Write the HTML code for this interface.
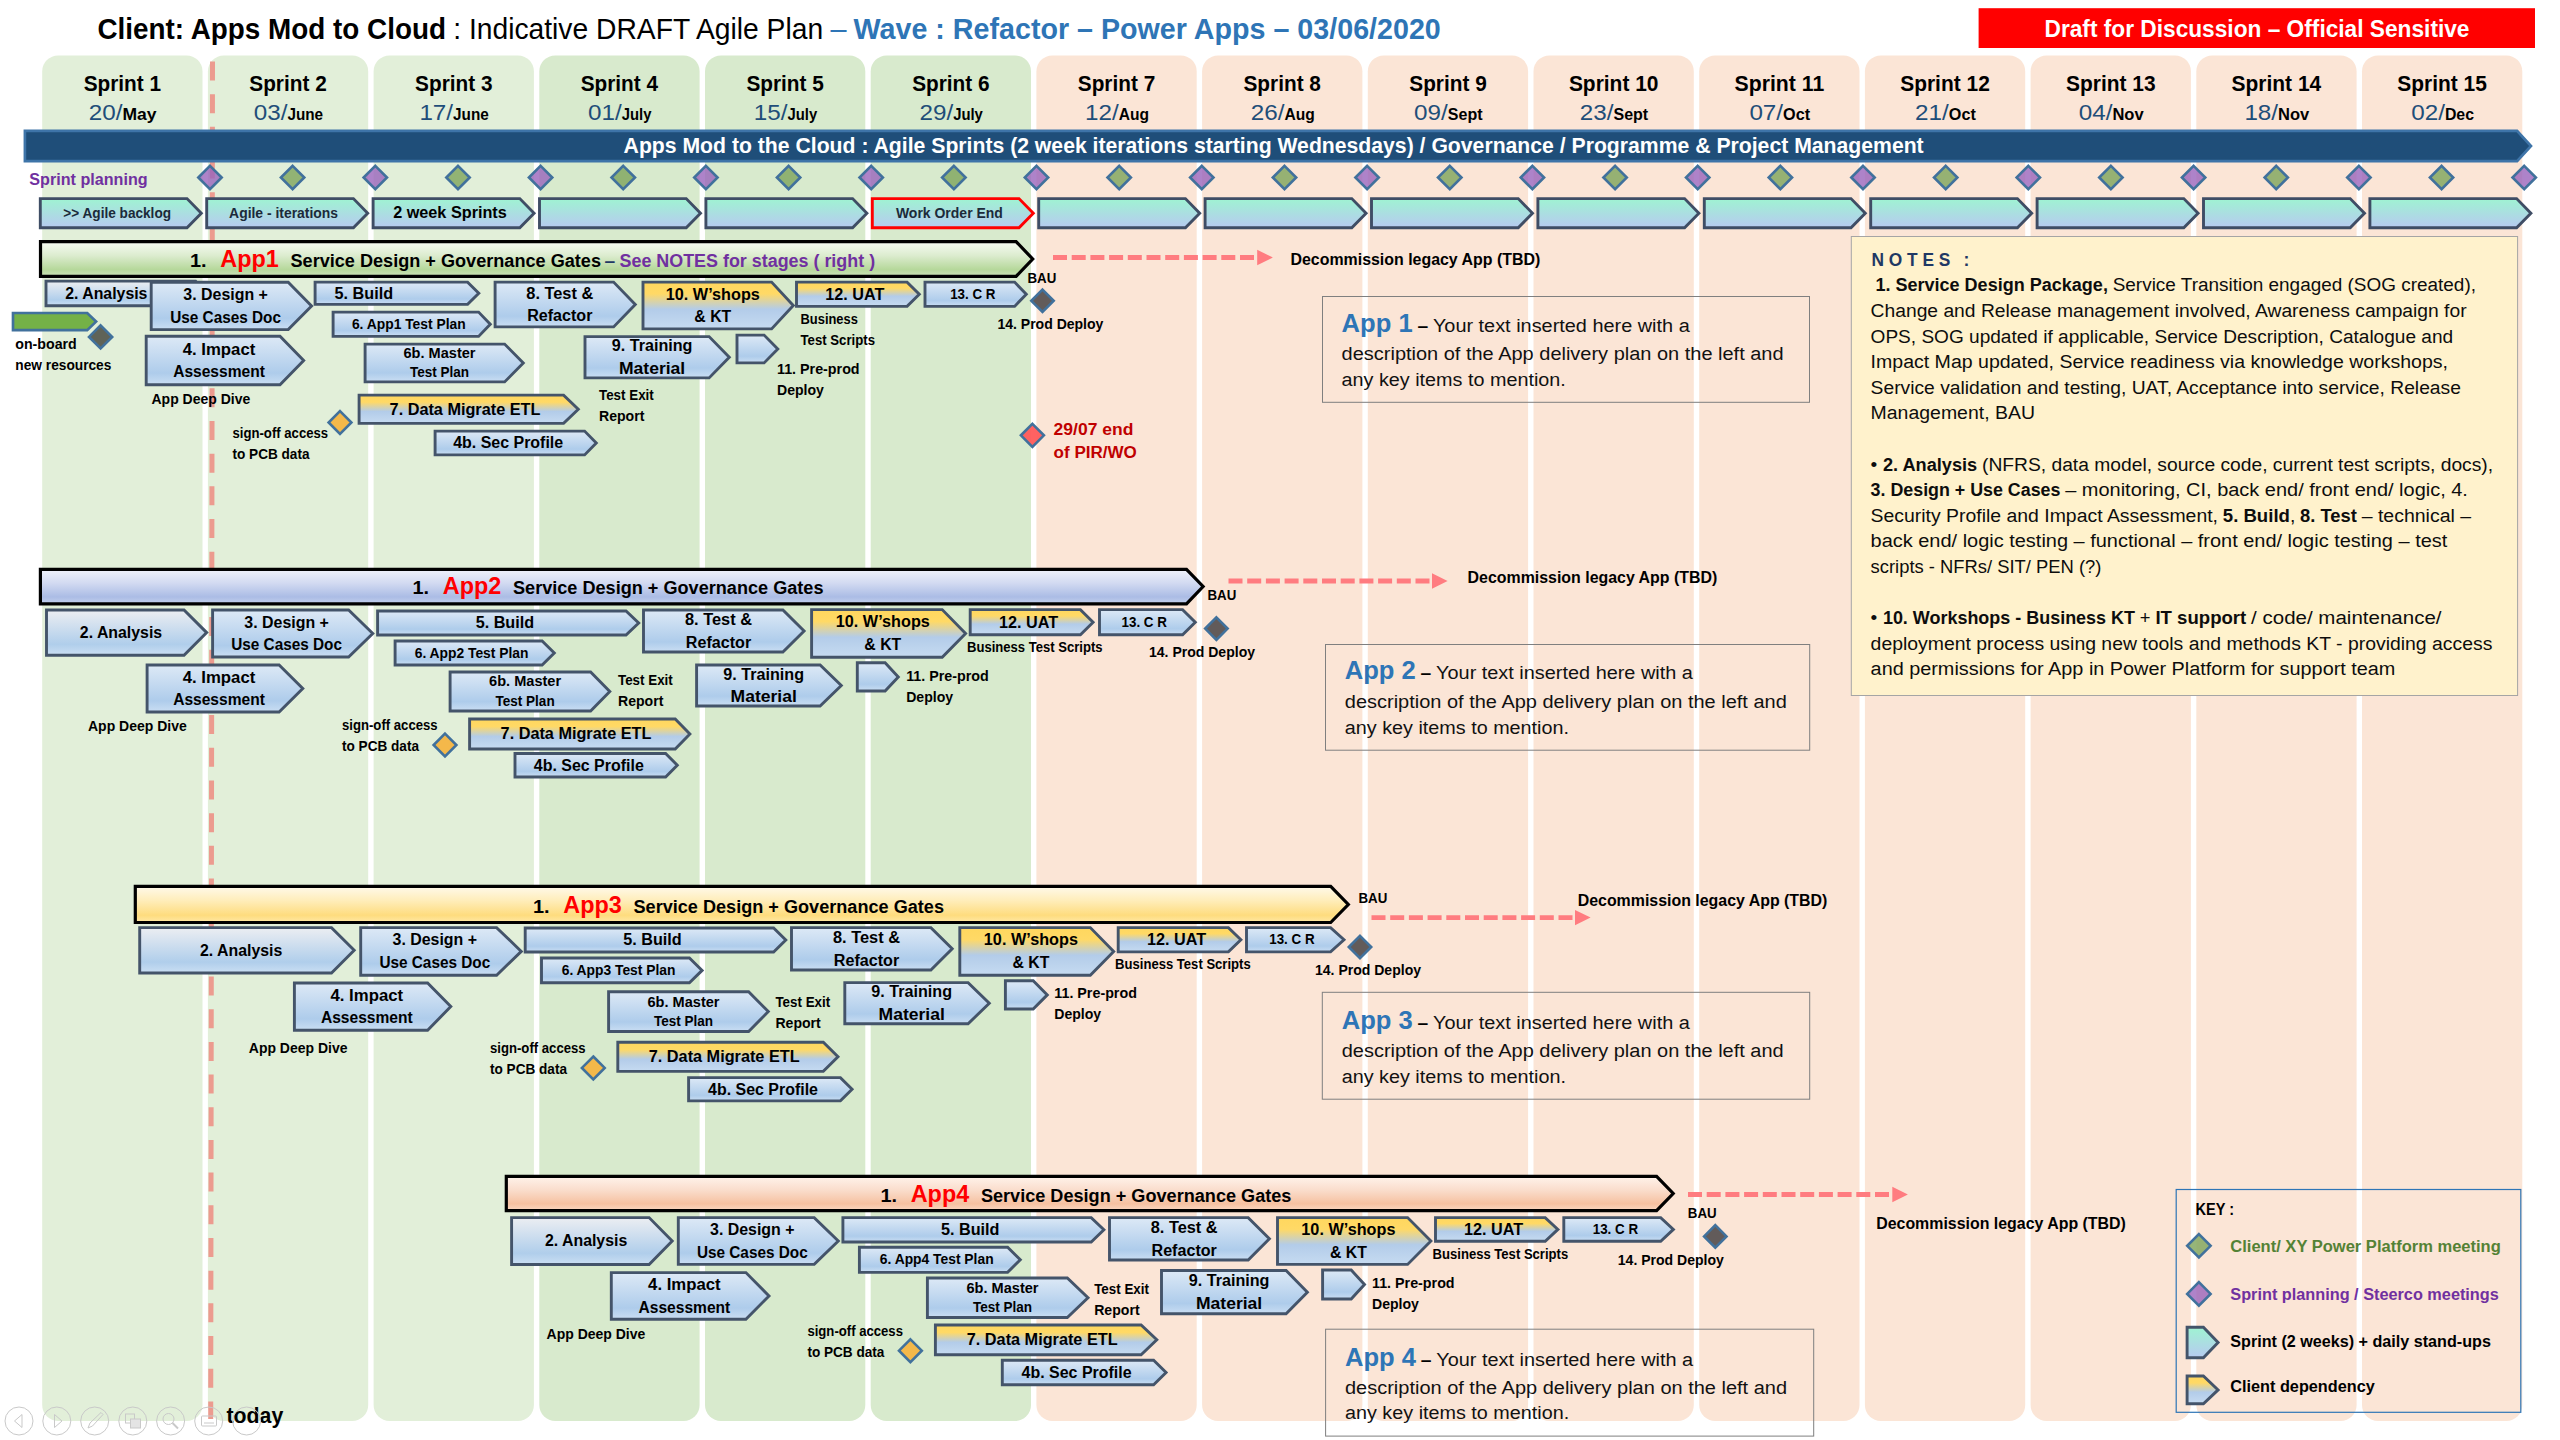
<!DOCTYPE html>
<html lang="en"><head><meta charset="utf-8"><title>Apps Mod to Cloud - Indicative DRAFT Agile Plan</title>
<style>
html,body{margin:0;padding:0;background:#fff}
body{width:2560px;height:1440px;overflow:hidden}
svg{display:block}
svg text{font-family:"Liberation Sans",sans-serif}
</style></head><body>
<svg width="2560" height="1440" viewBox="0 0 2560 1440">
<defs>
<linearGradient id="gb" x1="0" y1="0" x2="0" y2="1"><stop offset="0" stop-color="#DDE9F6"/><stop offset=".76" stop-color="#AECCEB"/><stop offset="1" stop-color="#CADEF3"/></linearGradient>
<linearGradient id="gb2" x1="0" y1="0" x2="0" y2="1"><stop offset="0" stop-color="#ECEEF2"/><stop offset=".76" stop-color="#B0CEEB"/><stop offset="1" stop-color="#CBDFF3"/></linearGradient>
<linearGradient id="gg" x1="0" y1="0" x2="0" y2="1"><stop offset="0" stop-color="#FFD75E"/><stop offset=".25" stop-color="#FFD966"/><stop offset=".58" stop-color="#B3CCE9"/><stop offset="1" stop-color="#C6DBF1"/></linearGradient>
<linearGradient id="gt" x1="0" y1="0" x2="0" y2="1"><stop offset="0" stop-color="#9FF3D2"/><stop offset="1" stop-color="#B7CAF0"/></linearGradient>
<linearGradient id="h1" x1="0" y1="0" x2="0" y2="1"><stop offset="0" stop-color="#F7FBF3"/><stop offset=".4" stop-color="#DCECCF"/><stop offset=".8" stop-color="#B6D89B"/><stop offset="1" stop-color="#CCE4BA"/></linearGradient>
<linearGradient id="h2" x1="0" y1="0" x2="0" y2="1"><stop offset="0" stop-color="#F0F2FA"/><stop offset=".4" stop-color="#D2DAF1"/><stop offset=".8" stop-color="#ABBCE5"/><stop offset="1" stop-color="#C3D0ED"/></linearGradient>
<linearGradient id="h3" x1="0" y1="0" x2="0" y2="1"><stop offset="0" stop-color="#FFF9EA"/><stop offset=".4" stop-color="#FFEDB9"/><stop offset=".8" stop-color="#FEDC7E"/><stop offset="1" stop-color="#FFE8A6"/></linearGradient>
<linearGradient id="h4" x1="0" y1="0" x2="0" y2="1"><stop offset="0" stop-color="#FFF3EB"/><stop offset=".4" stop-color="#FADDCC"/><stop offset=".8" stop-color="#F6C1A1"/><stop offset="1" stop-color="#FAD8C3"/></linearGradient>
</defs>

<rect x="42.2" y="55.4" width="160.3" height="1365.6" rx="16" fill="#E2EFD9"/>
<rect x="207.9" y="55.4" width="160.3" height="1365.6" rx="16" fill="#E2EFD9"/>
<rect x="373.6" y="55.4" width="160.3" height="1365.6" rx="16" fill="#E2EFD9"/>
<rect x="539.3" y="55.4" width="160.3" height="1365.6" rx="16" fill="#D8EACD"/>
<rect x="705.0" y="55.4" width="160.3" height="1365.6" rx="16" fill="#D8EACD"/>
<rect x="870.7" y="55.4" width="160.3" height="1365.6" rx="16" fill="#D8EACD"/>
<rect x="1036.4" y="55.4" width="160.3" height="1365.6" rx="16" fill="#FBE5D6"/>
<rect x="1202.1" y="55.4" width="160.3" height="1365.6" rx="16" fill="#FBE5D6"/>
<rect x="1367.8" y="55.4" width="160.3" height="1365.6" rx="16" fill="#FBE5D6"/>
<rect x="1533.5" y="55.4" width="160.3" height="1365.6" rx="16" fill="#FBE5D6"/>
<rect x="1699.2" y="55.4" width="160.3" height="1365.6" rx="16" fill="#FBE5D6"/>
<rect x="1864.9" y="55.4" width="160.3" height="1365.6" rx="16" fill="#FBE5D6"/>
<rect x="2030.6" y="55.4" width="160.3" height="1365.6" rx="16" fill="#FBE5D6"/>
<rect x="2196.3" y="55.4" width="160.3" height="1365.6" rx="16" fill="#FBE5D6"/>
<rect x="2362.0" y="55.4" width="160.3" height="1365.6" rx="16" fill="#FBE5D6"/>
<path d="M212.5 61.5L210.7 1419" stroke="#EC9B8F" stroke-width="5" stroke-dasharray="19 13.68" fill="none"/>
<text x="97.4" y="38.5" font-size="28.80" font-weight="700" textLength="348.6" lengthAdjust="spacingAndGlyphs">Client: Apps Mod to Cloud</text>
<text x="453.2" y="38.5" font-size="28.80" textLength="369.9" lengthAdjust="spacingAndGlyphs">: Indicative DRAFT Agile Plan</text>
<text x="830.4" y="38.5" font-size="28.80" fill="#2E75B6" textLength="16.0" lengthAdjust="spacingAndGlyphs">–</text>
<text x="853.6" y="38.5" font-size="28.80" font-weight="700" fill="#2E75B6" textLength="587.2" lengthAdjust="spacingAndGlyphs">Wave : Refactor – Power Apps – 03/06/2020</text>
<rect x="1978.6" y="8.2" width="556.4" height="39.8" fill="#FF0000"/>
<text x="2257.0" y="36.9" font-size="24.00" font-weight="700" fill="#fff" text-anchor="middle" textLength="425.0" lengthAdjust="spacingAndGlyphs">Draft for Discussion – Official Sensitive</text>
<text x="122.4" y="90.8" font-size="21.60" font-weight="700" text-anchor="middle" textLength="77.4" lengthAdjust="spacingAndGlyphs">Sprint 1</text>
<text x="88.8" y="120.0" font-size="21.60" fill="#1F4E79" textLength="33.7" lengthAdjust="spacingAndGlyphs">20/</text>
<text x="122.5" y="120.0" font-size="16.80" font-weight="700" textLength="34.1" lengthAdjust="spacingAndGlyphs">May</text>
<text x="288.0" y="90.8" font-size="21.60" font-weight="700" text-anchor="middle" textLength="77.4" lengthAdjust="spacingAndGlyphs">Sprint 2</text>
<text x="253.7" y="120.0" font-size="21.60" fill="#1F4E79" textLength="33.7" lengthAdjust="spacingAndGlyphs">03/</text>
<text x="287.4" y="120.0" font-size="16.80" font-weight="700" textLength="35.7" lengthAdjust="spacingAndGlyphs">June</text>
<text x="453.8" y="90.8" font-size="21.60" font-weight="700" text-anchor="middle" textLength="77.4" lengthAdjust="spacingAndGlyphs">Sprint 3</text>
<text x="419.4" y="120.0" font-size="21.60" fill="#1F4E79" textLength="33.7" lengthAdjust="spacingAndGlyphs">17/</text>
<text x="453.1" y="120.0" font-size="16.80" font-weight="700" textLength="35.7" lengthAdjust="spacingAndGlyphs">June</text>
<text x="619.4" y="90.8" font-size="21.60" font-weight="700" text-anchor="middle" textLength="77.4" lengthAdjust="spacingAndGlyphs">Sprint 4</text>
<text x="588.1" y="120.0" font-size="21.60" fill="#1F4E79" textLength="33.7" lengthAdjust="spacingAndGlyphs">01/</text>
<text x="621.8" y="120.0" font-size="16.80" font-weight="700" textLength="29.7" lengthAdjust="spacingAndGlyphs">July</text>
<text x="785.1" y="90.8" font-size="21.60" font-weight="700" text-anchor="middle" textLength="77.4" lengthAdjust="spacingAndGlyphs">Sprint 5</text>
<text x="753.8" y="120.0" font-size="21.60" fill="#1F4E79" textLength="33.7" lengthAdjust="spacingAndGlyphs">15/</text>
<text x="787.5" y="120.0" font-size="16.80" font-weight="700" textLength="29.7" lengthAdjust="spacingAndGlyphs">July</text>
<text x="950.9" y="90.8" font-size="21.60" font-weight="700" text-anchor="middle" textLength="77.4" lengthAdjust="spacingAndGlyphs">Sprint 6</text>
<text x="919.5" y="120.0" font-size="21.60" fill="#1F4E79" textLength="33.7" lengthAdjust="spacingAndGlyphs">29/</text>
<text x="953.2" y="120.0" font-size="16.80" font-weight="700" textLength="29.7" lengthAdjust="spacingAndGlyphs">July</text>
<text x="1116.5" y="90.8" font-size="21.60" font-weight="700" text-anchor="middle" textLength="77.4" lengthAdjust="spacingAndGlyphs">Sprint 7</text>
<text x="1085.0" y="120.0" font-size="21.60" fill="#1F4E79" textLength="33.7" lengthAdjust="spacingAndGlyphs">12/</text>
<text x="1118.7" y="120.0" font-size="16.80" font-weight="700" textLength="30.3" lengthAdjust="spacingAndGlyphs">Aug</text>
<text x="1282.2" y="90.8" font-size="21.60" font-weight="700" text-anchor="middle" textLength="77.4" lengthAdjust="spacingAndGlyphs">Sprint 8</text>
<text x="1250.7" y="120.0" font-size="21.60" fill="#1F4E79" textLength="33.7" lengthAdjust="spacingAndGlyphs">26/</text>
<text x="1284.4" y="120.0" font-size="16.80" font-weight="700" textLength="30.3" lengthAdjust="spacingAndGlyphs">Aug</text>
<text x="1448.0" y="90.8" font-size="21.60" font-weight="700" text-anchor="middle" textLength="77.4" lengthAdjust="spacingAndGlyphs">Sprint 9</text>
<text x="1414.1" y="120.0" font-size="21.60" fill="#1F4E79" textLength="33.7" lengthAdjust="spacingAndGlyphs">09/</text>
<text x="1447.8" y="120.0" font-size="16.80" font-weight="700" textLength="34.7" lengthAdjust="spacingAndGlyphs">Sept</text>
<text x="1613.7" y="90.8" font-size="21.60" font-weight="700" text-anchor="middle" textLength="89.6" lengthAdjust="spacingAndGlyphs">Sprint 10</text>
<text x="1579.8" y="120.0" font-size="21.60" fill="#1F4E79" textLength="33.7" lengthAdjust="spacingAndGlyphs">23/</text>
<text x="1613.5" y="120.0" font-size="16.80" font-weight="700" textLength="34.7" lengthAdjust="spacingAndGlyphs">Sept</text>
<text x="1779.4" y="90.8" font-size="21.60" font-weight="700" text-anchor="middle" textLength="89.6" lengthAdjust="spacingAndGlyphs">Sprint 11</text>
<text x="1749.4" y="120.0" font-size="21.60" fill="#1F4E79" textLength="33.7" lengthAdjust="spacingAndGlyphs">07/</text>
<text x="1783.1" y="120.0" font-size="16.80" font-weight="700" textLength="27.0" lengthAdjust="spacingAndGlyphs">Oct</text>
<text x="1945.0" y="90.8" font-size="21.60" font-weight="700" text-anchor="middle" textLength="89.6" lengthAdjust="spacingAndGlyphs">Sprint 12</text>
<text x="1915.1" y="120.0" font-size="21.60" fill="#1F4E79" textLength="33.7" lengthAdjust="spacingAndGlyphs">21/</text>
<text x="1948.8" y="120.0" font-size="16.80" font-weight="700" textLength="27.0" lengthAdjust="spacingAndGlyphs">Oct</text>
<text x="2110.8" y="90.8" font-size="21.60" font-weight="700" text-anchor="middle" textLength="89.6" lengthAdjust="spacingAndGlyphs">Sprint 13</text>
<text x="2078.7" y="120.0" font-size="21.60" fill="#1F4E79" textLength="33.7" lengthAdjust="spacingAndGlyphs">04/</text>
<text x="2112.4" y="120.0" font-size="16.80" font-weight="700" textLength="31.2" lengthAdjust="spacingAndGlyphs">Nov</text>
<text x="2276.4" y="90.8" font-size="21.60" font-weight="700" text-anchor="middle" textLength="89.6" lengthAdjust="spacingAndGlyphs">Sprint 14</text>
<text x="2244.4" y="120.0" font-size="21.60" fill="#1F4E79" textLength="33.7" lengthAdjust="spacingAndGlyphs">18/</text>
<text x="2278.1" y="120.0" font-size="16.80" font-weight="700" textLength="31.2" lengthAdjust="spacingAndGlyphs">Nov</text>
<text x="2442.1" y="90.8" font-size="21.60" font-weight="700" text-anchor="middle" textLength="89.6" lengthAdjust="spacingAndGlyphs">Sprint 15</text>
<text x="2411.2" y="120.0" font-size="21.60" fill="#1F4E79" textLength="33.7" lengthAdjust="spacingAndGlyphs">02/</text>
<text x="2444.9" y="120.0" font-size="16.80" font-weight="700" textLength="29.1" lengthAdjust="spacingAndGlyphs">Dec</text>
<path d="M24.9 130.9H2517.1L2531.0 146.0L2517.1 161.1H24.9Z" fill="#1F4E79" stroke="#3E74A8" stroke-width="2.67"/>
<text x="623.6" y="152.6" font-size="21.60" font-weight="700" fill="#fff" textLength="1300.1" lengthAdjust="spacingAndGlyphs">Apps Mod to the Cloud : Agile Sprints (2 week iterations starting Wednesdays) / Governance / Programme &amp; Project Management</text>
<text x="29.3" y="184.7" font-size="16.80" font-weight="700" fill="#7030A0" textLength="118.3" lengthAdjust="spacingAndGlyphs">Sprint planning</text>
<path d="M210.0 165.8L221.7 177.5L210.0 189.2L198.3 177.5Z" fill="#9A64BC" fill-opacity=".8" stroke="#41719C" stroke-width="2.6"/>
<path d="M292.6 165.8L304.3 177.5L292.6 189.2L280.9 177.5Z" fill="#84A862" fill-opacity=".85" stroke="#41719C" stroke-width="2.6"/>
<path d="M375.3 165.8L387.0 177.5L375.3 189.2L363.6 177.5Z" fill="#9A64BC" fill-opacity=".8" stroke="#41719C" stroke-width="2.6"/>
<path d="M458.0 165.8L469.7 177.5L458.0 189.2L446.3 177.5Z" fill="#84A862" fill-opacity=".85" stroke="#41719C" stroke-width="2.6"/>
<path d="M540.6 165.8L552.3 177.5L540.6 189.2L528.9 177.5Z" fill="#9A64BC" fill-opacity=".8" stroke="#41719C" stroke-width="2.6"/>
<path d="M623.2 165.8L635.0 177.5L623.2 189.2L611.5 177.5Z" fill="#84A862" fill-opacity=".85" stroke="#41719C" stroke-width="2.6"/>
<path d="M705.9 165.8L717.6 177.5L705.9 189.2L694.2 177.5Z" fill="#9A64BC" fill-opacity=".8" stroke="#41719C" stroke-width="2.6"/>
<path d="M788.6 165.8L800.3 177.5L788.6 189.2L776.9 177.5Z" fill="#84A862" fill-opacity=".85" stroke="#41719C" stroke-width="2.6"/>
<path d="M871.2 165.8L882.9 177.5L871.2 189.2L859.5 177.5Z" fill="#9A64BC" fill-opacity=".8" stroke="#41719C" stroke-width="2.6"/>
<path d="M953.9 165.8L965.6 177.5L953.9 189.2L942.1 177.5Z" fill="#84A862" fill-opacity=".85" stroke="#41719C" stroke-width="2.6"/>
<path d="M1036.5 165.8L1048.2 177.5L1036.5 189.2L1024.8 177.5Z" fill="#9A64BC" fill-opacity=".8" stroke="#41719C" stroke-width="2.6"/>
<path d="M1119.2 165.8L1130.9 177.5L1119.2 189.2L1107.5 177.5Z" fill="#84A862" fill-opacity=".85" stroke="#41719C" stroke-width="2.6"/>
<path d="M1201.8 165.8L1213.5 177.5L1201.8 189.2L1190.1 177.5Z" fill="#9A64BC" fill-opacity=".8" stroke="#41719C" stroke-width="2.6"/>
<path d="M1284.5 165.8L1296.2 177.5L1284.5 189.2L1272.8 177.5Z" fill="#84A862" fill-opacity=".85" stroke="#41719C" stroke-width="2.6"/>
<path d="M1367.1 165.8L1378.8 177.5L1367.1 189.2L1355.4 177.5Z" fill="#9A64BC" fill-opacity=".8" stroke="#41719C" stroke-width="2.6"/>
<path d="M1449.8 165.8L1461.5 177.5L1449.8 189.2L1438.0 177.5Z" fill="#84A862" fill-opacity=".85" stroke="#41719C" stroke-width="2.6"/>
<path d="M1532.4 165.8L1544.1 177.5L1532.4 189.2L1520.7 177.5Z" fill="#9A64BC" fill-opacity=".8" stroke="#41719C" stroke-width="2.6"/>
<path d="M1615.1 165.8L1626.8 177.5L1615.1 189.2L1603.4 177.5Z" fill="#84A862" fill-opacity=".85" stroke="#41719C" stroke-width="2.6"/>
<path d="M1697.7 165.8L1709.4 177.5L1697.7 189.2L1686.0 177.5Z" fill="#9A64BC" fill-opacity=".8" stroke="#41719C" stroke-width="2.6"/>
<path d="M1780.4 165.8L1792.1 177.5L1780.4 189.2L1768.7 177.5Z" fill="#84A862" fill-opacity=".85" stroke="#41719C" stroke-width="2.6"/>
<path d="M1863.0 165.8L1874.7 177.5L1863.0 189.2L1851.3 177.5Z" fill="#9A64BC" fill-opacity=".8" stroke="#41719C" stroke-width="2.6"/>
<path d="M1945.7 165.8L1957.4 177.5L1945.7 189.2L1934.0 177.5Z" fill="#84A862" fill-opacity=".85" stroke="#41719C" stroke-width="2.6"/>
<path d="M2028.3 165.8L2040.0 177.5L2028.3 189.2L2016.6 177.5Z" fill="#9A64BC" fill-opacity=".8" stroke="#41719C" stroke-width="2.6"/>
<path d="M2110.9 165.8L2122.6 177.5L2110.9 189.2L2099.2 177.5Z" fill="#84A862" fill-opacity=".85" stroke="#41719C" stroke-width="2.6"/>
<path d="M2193.6 165.8L2205.3 177.5L2193.6 189.2L2181.9 177.5Z" fill="#9A64BC" fill-opacity=".8" stroke="#41719C" stroke-width="2.6"/>
<path d="M2276.2 165.8L2287.9 177.5L2276.2 189.2L2264.6 177.5Z" fill="#84A862" fill-opacity=".85" stroke="#41719C" stroke-width="2.6"/>
<path d="M2358.9 165.8L2370.6 177.5L2358.9 189.2L2347.2 177.5Z" fill="#9A64BC" fill-opacity=".8" stroke="#41719C" stroke-width="2.6"/>
<path d="M2441.6 165.8L2453.2 177.5L2441.6 189.2L2429.9 177.5Z" fill="#84A862" fill-opacity=".85" stroke="#41719C" stroke-width="2.6"/>
<path d="M2524.2 165.8L2535.9 177.5L2524.2 189.2L2512.5 177.5Z" fill="#9A64BC" fill-opacity=".8" stroke="#41719C" stroke-width="2.6"/>
<path d="M40.3 198.6H187.0L201.3 213.2L187.0 227.8H40.3Z" fill="url(#gt)" stroke="#3F4D65" stroke-width="2.9"/>
<path d="M206.7 198.6H353.4L367.7 213.2L353.4 227.8H206.7Z" fill="url(#gt)" stroke="#3F4D65" stroke-width="2.9"/>
<path d="M373.1 198.6H519.8L534.1 213.2L519.8 227.8H373.1Z" fill="url(#gt)" stroke="#3F4D65" stroke-width="2.9"/>
<path d="M539.5 198.6H686.2L700.5 213.2L686.2 227.8H539.5Z" fill="url(#gt)" stroke="#3F4D65" stroke-width="2.9"/>
<path d="M705.9 198.6H852.6L866.9 213.2L852.6 227.8H705.9Z" fill="url(#gt)" stroke="#3F4D65" stroke-width="2.9"/>
<path d="M872.3 198.6H1019.0L1033.3 213.2L1019.0 227.8H872.3Z" fill="url(#gt)" stroke="#FF0000" stroke-width="2.9"/>
<path d="M1038.7 198.6H1185.4L1199.7 213.2L1185.4 227.8H1038.7Z" fill="url(#gt)" stroke="#3F4D65" stroke-width="2.9"/>
<path d="M1205.1 198.6H1351.8L1366.1 213.2L1351.8 227.8H1205.1Z" fill="url(#gt)" stroke="#3F4D65" stroke-width="2.9"/>
<path d="M1371.5 198.6H1518.2L1532.5 213.2L1518.2 227.8H1371.5Z" fill="url(#gt)" stroke="#3F4D65" stroke-width="2.9"/>
<path d="M1537.9 198.6H1684.6L1698.9 213.2L1684.6 227.8H1537.9Z" fill="url(#gt)" stroke="#3F4D65" stroke-width="2.9"/>
<path d="M1704.3 198.6H1851.0L1865.3 213.2L1851.0 227.8H1704.3Z" fill="url(#gt)" stroke="#3F4D65" stroke-width="2.9"/>
<path d="M1870.7 198.6H2017.4L2031.7 213.2L2017.4 227.8H1870.7Z" fill="url(#gt)" stroke="#3F4D65" stroke-width="2.9"/>
<path d="M2037.1 198.6H2183.8L2198.1 213.2L2183.8 227.8H2037.1Z" fill="url(#gt)" stroke="#3F4D65" stroke-width="2.9"/>
<path d="M2203.5 198.6H2350.2L2364.5 213.2L2350.2 227.8H2203.5Z" fill="url(#gt)" stroke="#3F4D65" stroke-width="2.9"/>
<path d="M2369.9 198.6H2516.6L2530.9 213.2L2516.6 227.8H2369.9Z" fill="url(#gt)" stroke="#3F4D65" stroke-width="2.9"/>
<text x="117.2" y="218.0" font-size="14.40" font-weight="700" fill="#1C2A3A" text-anchor="middle" textLength="107.7" lengthAdjust="spacingAndGlyphs">&gt;&gt; Agile backlog</text>
<text x="283.6" y="218.0" font-size="14.40" font-weight="700" fill="#1C2A3A" text-anchor="middle" textLength="109.0" lengthAdjust="spacingAndGlyphs">Agile - iterations</text>
<text x="450.0" y="217.6" font-size="16.80" font-weight="700" text-anchor="middle" textLength="113.6" lengthAdjust="spacingAndGlyphs">2 week Sprints</text>
<text x="949.4" y="218.0" font-size="14.40" font-weight="700" fill="#1C2A3A" text-anchor="middle" textLength="107.0" lengthAdjust="spacingAndGlyphs">Work Order End</text>
<path d="M40.5 241.6H1016.1L1032.7 259.0L1016.1 276.4H40.5Z" fill="url(#h1)" stroke="#000" stroke-width="3.2"/>
<text x="190.0" y="267.0" font-size="19.20" font-weight="700" textLength="16.6" lengthAdjust="spacingAndGlyphs">1.</text>
<text x="220.3" y="267.0" font-size="24.00" font-weight="700" fill="#FF0000" textLength="58.5" lengthAdjust="spacingAndGlyphs">App1</text>
<text x="290.5" y="267.0" font-size="19.20" font-weight="700" textLength="310.5" lengthAdjust="spacingAndGlyphs">Service Design + Governance Gates</text>
<text x="604.6" y="267.0" font-size="19.20" font-weight="700" fill="#1F3864" textLength="10.7" lengthAdjust="spacingAndGlyphs">–</text>
<text x="619.5" y="267.0" font-size="19.20" font-weight="700" fill="#7030A0" textLength="255.6" lengthAdjust="spacingAndGlyphs">See NOTES for stages ( right )</text>
<path d="M46.0 281.1H195.6L206.3 293.4L195.6 305.8H46.0Z" fill="url(#gb2)" stroke="#44546A" stroke-width="2.9"/>
<text x="106.3" y="298.7" font-size="16.80" font-weight="700" text-anchor="middle" textLength="82.3" lengthAdjust="spacingAndGlyphs">2. Analysis</text>
<path d="M151.2 282.2H288.2L311.6 305.9L288.2 329.6H151.2Z" fill="url(#gb)" stroke="#44546A" stroke-width="2.9"/>
<text x="225.6" y="299.9" font-size="16.80" font-weight="700" text-anchor="middle" textLength="84.5" lengthAdjust="spacingAndGlyphs">3. Design +</text>
<text x="225.6" y="322.6" font-size="16.80" font-weight="700" text-anchor="middle" textLength="110.8" lengthAdjust="spacingAndGlyphs">Use Cases Doc</text>
<path d="M146.2 336.2H280.0L303.7 360.5L280.0 384.8H146.2Z" fill="url(#gb)" stroke="#44546A" stroke-width="2.9"/>
<text x="219.0" y="354.5" font-size="16.80" font-weight="700" text-anchor="middle" textLength="72.6" lengthAdjust="spacingAndGlyphs">4. Impact</text>
<text x="219.0" y="377.2" font-size="16.80" font-weight="700" text-anchor="middle" textLength="91.7" lengthAdjust="spacingAndGlyphs">Assessment</text>
<path d="M315.1 282.1H467.6L478.8 293.2L467.6 304.4H315.1Z" fill="url(#gb)" stroke="#44546A" stroke-width="2.9"/>
<text x="363.8" y="298.6" font-size="16.80" font-weight="700" text-anchor="middle" textLength="58.5" lengthAdjust="spacingAndGlyphs">5. Build</text>
<path d="M333.1 312.1H478.6L490.3 324.2L478.6 336.4H333.1Z" fill="url(#gb)" stroke="#44546A" stroke-width="2.9"/>
<text x="408.8" y="328.8" font-size="14.40" font-weight="700" text-anchor="middle" textLength="113.8" lengthAdjust="spacingAndGlyphs">6. App1 Test Plan</text>
<path d="M365.1 344.1H504.6L523.3 363.0L504.6 381.9H365.1Z" fill="url(#gb)" stroke="#44546A" stroke-width="2.9"/>
<text x="439.5" y="357.8" font-size="14.40" font-weight="700" text-anchor="middle" textLength="72.0" lengthAdjust="spacingAndGlyphs">6b. Master</text>
<text x="439.5" y="377.3" font-size="14.40" font-weight="700" text-anchor="middle" textLength="59.1" lengthAdjust="spacingAndGlyphs">Test Plan</text>
<path d="M359.1 395.1H563.6L578.3 409.2L563.6 423.4H359.1Z" fill="url(#gg)" stroke="#44546A" stroke-width="2.9"/>
<text x="465.0" y="414.6" font-size="16.80" font-weight="700" text-anchor="middle" textLength="150.8" lengthAdjust="spacingAndGlyphs">7. Data Migrate ETL</text>
<path d="M435.1 431.1H584.6L596.3 443.0L584.6 454.9H435.1Z" fill="url(#gb)" stroke="#44546A" stroke-width="2.9"/>
<text x="508.2" y="448.3" font-size="16.80" font-weight="700" text-anchor="middle" textLength="110.0" lengthAdjust="spacingAndGlyphs">4b. Sec Profile</text>
<path d="M495.1 282.1H613.6L635.3 304.5L613.6 326.9H495.1Z" fill="url(#gb)" stroke="#44546A" stroke-width="2.9"/>
<text x="559.8" y="298.5" font-size="16.80" font-weight="700" text-anchor="middle" textLength="67.0" lengthAdjust="spacingAndGlyphs">8. Test &amp;</text>
<text x="559.8" y="321.2" font-size="16.80" font-weight="700" text-anchor="middle" textLength="65.3" lengthAdjust="spacingAndGlyphs">Refactor</text>
<path d="M585.0 336.6H709.1L729.3 357.2L709.1 377.9H585.0Z" fill="url(#gb)" stroke="#44546A" stroke-width="2.9"/>
<text x="652.1" y="351.2" font-size="16.80" font-weight="700" text-anchor="middle" textLength="80.7" lengthAdjust="spacingAndGlyphs">9. Training</text>
<text x="652.1" y="373.9" font-size="16.80" font-weight="700" text-anchor="middle" textLength="66.2" lengthAdjust="spacingAndGlyphs">Material</text>
<path d="M643.0 282.1H771.6L793.3 305.5L771.6 328.9H643.0Z" fill="url(#gg)" stroke="#44546A" stroke-width="2.9"/>
<text x="712.8" y="299.5" font-size="16.80" font-weight="700" text-anchor="middle" textLength="94.1" lengthAdjust="spacingAndGlyphs">10. W’shops</text>
<text x="712.8" y="322.2" font-size="16.80" font-weight="700" text-anchor="middle" textLength="36.9" lengthAdjust="spacingAndGlyphs">&amp; KT</text>
<path d="M737.0 335.1H764.1L777.8 349.0L764.1 362.9H737.0Z" fill="url(#gb)" stroke="#44546A" stroke-width="2.9"/>
<path d="M796.5 282.1H907.1L919.3 294.2L907.1 306.4H796.5Z" fill="url(#gg)" stroke="#44546A" stroke-width="2.9"/>
<text x="854.9" y="299.6" font-size="16.80" font-weight="700" text-anchor="middle" textLength="59.1" lengthAdjust="spacingAndGlyphs">12. UAT</text>
<path d="M925.0 282.1H1014.6L1026.3 294.2L1014.6 306.4H925.0Z" fill="url(#gb)" stroke="#44546A" stroke-width="2.9"/>
<text x="972.8" y="298.8" font-size="14.40" font-weight="700" text-anchor="middle" textLength="45.3" lengthAdjust="spacingAndGlyphs">13. C R</text>
<text x="15.3" y="348.6" font-size="14.40" font-weight="700" textLength="61.4" lengthAdjust="spacingAndGlyphs">on-board</text>
<text x="15.3" y="369.6" font-size="14.40" font-weight="700" textLength="96.1" lengthAdjust="spacingAndGlyphs">new resources</text>
<text x="151.5" y="403.8" font-size="14.40" font-weight="700" textLength="98.7" lengthAdjust="spacingAndGlyphs">App Deep Dive</text>
<text x="232.5" y="437.5" font-size="14.40" font-weight="700" textLength="95.6" lengthAdjust="spacingAndGlyphs">sign-off access</text>
<text x="232.5" y="458.7" font-size="14.40" font-weight="700" textLength="77.0" lengthAdjust="spacingAndGlyphs">to PCB data</text>
<text x="599.0" y="400.0" font-size="14.40" font-weight="700" textLength="54.8" lengthAdjust="spacingAndGlyphs">Test Exit</text>
<text x="599.0" y="421.0" font-size="14.40" font-weight="700" textLength="45.4" lengthAdjust="spacingAndGlyphs">Report</text>
<text x="800.5" y="324.0" font-size="14.40" font-weight="700" textLength="57.4" lengthAdjust="spacingAndGlyphs">Business</text>
<text x="800.5" y="345.0" font-size="14.40" font-weight="700" textLength="74.5" lengthAdjust="spacingAndGlyphs">Test Scripts</text>
<text x="777.0" y="374.0" font-size="14.40" font-weight="700" textLength="82.6" lengthAdjust="spacingAndGlyphs">11. Pre-prod</text>
<text x="777.0" y="395.0" font-size="14.40" font-weight="700" textLength="46.9" lengthAdjust="spacingAndGlyphs">Deploy</text>
<path d="M340.0 411.1L351.4 422.5L340.0 433.9L328.6 422.5Z" fill="#F4B84A" stroke="#41719C" stroke-width="2.6"/>
<path d="M1042.5 289.6L1053.7 300.8L1042.5 312.0L1031.3 300.8Z" fill="#625B5A" stroke="#41719C" stroke-width="2.6"/>
<text x="1027.5" y="282.8" font-size="14.40" font-weight="700" textLength="28.8" lengthAdjust="spacingAndGlyphs">BAU</text>
<text x="997.4" y="328.7" font-size="14.40" font-weight="700" textLength="106.0" lengthAdjust="spacingAndGlyphs">14. Prod Deploy</text>
<path d="M1053.0 257.5H1257.8" stroke="#FF7C80" stroke-width="4.8" stroke-dasharray="14 4.7" fill="none"/>
<path d="M1257.2 249.8L1272.8 257.5L1257.2 265.2Z" fill="#FF7C80"/>
<text x="1290.5" y="265.3" font-size="16.80" font-weight="700" textLength="249.7" lengthAdjust="spacingAndGlyphs">Decommission legacy App (TBD)</text>
<rect x="1322.5" y="296.5" width="487.0" height="105.8" fill="none" stroke="#7F7F7F" stroke-width="1"/>
<text x="1341.6" y="331.8" font-size="26.40" font-weight="700" fill="#2E75B6" textLength="71.0" lengthAdjust="spacingAndGlyphs">App 1</text>
<text x="1417.4" y="331.8" font-size="19.20" font-weight="700" textLength="10.7" lengthAdjust="spacingAndGlyphs">–</text>
<text x="1432.9" y="331.8" font-size="19.20" fill="#111" textLength="256.8" lengthAdjust="spacingAndGlyphs">Your text inserted here with a</text>
<text x="1341.6" y="360.0" font-size="19.20" fill="#111" textLength="442.0" lengthAdjust="spacingAndGlyphs">description of the App delivery plan on the left and</text>
<text x="1341.6" y="386.2" font-size="19.20" fill="#111" textLength="224.2" lengthAdjust="spacingAndGlyphs">any key items to mention.</text>
<path d="M13.0 313.0H87.2L96.1 321.6L87.2 330.1H13.0Z" fill="#74B147" stroke="#41719C" stroke-width="2.67"/>
<path d="M100.6 325.3L112.2 336.9L100.6 348.5L89.0 336.9Z" fill="#5F6358" stroke="#41719C" stroke-width="2.6"/>
<path d="M1032.4 423.8L1043.9 435.3L1032.4 446.8L1020.9 435.3Z" fill="#FF5A5A" fill-opacity=".95" stroke="#41719C" stroke-width="2.6"/>
<text x="1053.6" y="434.6" font-size="16.80" font-weight="700" fill="#C00000" textLength="79.8" lengthAdjust="spacingAndGlyphs">29/07 end</text>
<text x="1053.6" y="457.5" font-size="16.80" font-weight="700" fill="#C00000" textLength="83.2" lengthAdjust="spacingAndGlyphs">of PIR/WO</text>
<path d="M40.4 569.3H1186.5L1203.1 586.5L1186.5 603.8H40.4Z" fill="url(#h2)" stroke="#000" stroke-width="3.2"/>
<text x="412.5" y="593.8" font-size="19.20" font-weight="700" textLength="16.6" lengthAdjust="spacingAndGlyphs">1.</text>
<text x="442.8" y="593.8" font-size="24.00" font-weight="700" fill="#FF0000" textLength="58.5" lengthAdjust="spacingAndGlyphs">App2</text>
<text x="513.0" y="593.8" font-size="19.20" font-weight="700" textLength="310.5" lengthAdjust="spacingAndGlyphs">Service Design + Governance Gates</text>
<path d="M46.5 610.0H184.0L206.7 632.6L184.0 655.2H46.5Z" fill="url(#gb2)" stroke="#44546A" stroke-width="2.9"/>
<text x="121.0" y="637.9" font-size="16.80" font-weight="700" text-anchor="middle" textLength="82.3" lengthAdjust="spacingAndGlyphs">2. Analysis</text>
<path d="M212.6 610.0H348.6L372.8 633.5L348.6 657.0H212.6Z" fill="url(#gb)" stroke="#44546A" stroke-width="2.9"/>
<text x="286.6" y="627.5" font-size="16.80" font-weight="700" text-anchor="middle" textLength="84.5" lengthAdjust="spacingAndGlyphs">3. Design +</text>
<text x="286.6" y="650.2" font-size="16.80" font-weight="700" text-anchor="middle" textLength="110.8" lengthAdjust="spacingAndGlyphs">Use Cases Doc</text>
<path d="M147.1 665.0H279.1L302.8 688.5L279.1 712.0H147.1Z" fill="url(#gb)" stroke="#44546A" stroke-width="2.9"/>
<text x="219.0" y="682.5" font-size="16.80" font-weight="700" text-anchor="middle" textLength="72.6" lengthAdjust="spacingAndGlyphs">4. Impact</text>
<text x="219.0" y="705.2" font-size="16.80" font-weight="700" text-anchor="middle" textLength="91.7" lengthAdjust="spacingAndGlyphs">Assessment</text>
<path d="M377.6 611.0H626.0L638.7 623.0L626.0 635.0H377.6Z" fill="url(#gb)" stroke="#44546A" stroke-width="2.9"/>
<text x="504.9" y="628.3" font-size="16.80" font-weight="700" text-anchor="middle" textLength="58.5" lengthAdjust="spacingAndGlyphs">5. Build</text>
<path d="M395.1 641.0H542.1L554.3 653.0L542.1 665.0H395.1Z" fill="url(#gb)" stroke="#44546A" stroke-width="2.9"/>
<text x="471.6" y="657.6" font-size="14.40" font-weight="700" text-anchor="middle" textLength="113.8" lengthAdjust="spacingAndGlyphs">6. App2 Test Plan</text>
<path d="M450.1 672.0H590.6L609.8 691.5L590.6 711.0H450.1Z" fill="url(#gb)" stroke="#44546A" stroke-width="2.9"/>
<text x="525.1" y="686.3" font-size="14.40" font-weight="700" text-anchor="middle" textLength="72.0" lengthAdjust="spacingAndGlyphs">6b. Master</text>
<text x="525.1" y="705.8" font-size="14.40" font-weight="700" text-anchor="middle" textLength="59.1" lengthAdjust="spacingAndGlyphs">Test Plan</text>
<path d="M469.6 719.0H675.2L689.9 734.0L675.2 749.0H469.6Z" fill="url(#gg)" stroke="#44546A" stroke-width="2.9"/>
<text x="576.0" y="739.3" font-size="16.80" font-weight="700" text-anchor="middle" textLength="150.8" lengthAdjust="spacingAndGlyphs">7. Data Migrate ETL</text>
<path d="M515.0 753.5H665.6L677.3 765.2L665.6 777.0H515.0Z" fill="url(#gb)" stroke="#44546A" stroke-width="2.9"/>
<text x="588.8" y="770.6" font-size="16.80" font-weight="700" text-anchor="middle" textLength="110.0" lengthAdjust="spacingAndGlyphs">4b. Sec Profile</text>
<path d="M643.5 610.0H782.9L804.1 631.0L782.9 652.0H643.5Z" fill="url(#gb)" stroke="#44546A" stroke-width="2.9"/>
<text x="718.5" y="625.0" font-size="16.80" font-weight="700" text-anchor="middle" textLength="67.0" lengthAdjust="spacingAndGlyphs">8. Test &amp;</text>
<text x="718.5" y="647.7" font-size="16.80" font-weight="700" text-anchor="middle" textLength="65.3" lengthAdjust="spacingAndGlyphs">Refactor</text>
<path d="M696.6 665.0H820.1L841.3 685.5L820.1 706.0H696.6Z" fill="url(#gb)" stroke="#44546A" stroke-width="2.9"/>
<text x="763.7" y="679.5" font-size="16.80" font-weight="700" text-anchor="middle" textLength="80.7" lengthAdjust="spacingAndGlyphs">9. Training</text>
<text x="763.7" y="702.2" font-size="16.80" font-weight="700" text-anchor="middle" textLength="66.2" lengthAdjust="spacingAndGlyphs">Material</text>
<path d="M811.6 609.6H942.2L965.6 633.5L942.2 657.2H811.6Z" fill="url(#gg)" stroke="#44546A" stroke-width="2.9"/>
<text x="882.8" y="627.4" font-size="16.80" font-weight="700" text-anchor="middle" textLength="94.1" lengthAdjust="spacingAndGlyphs">10. W’shops</text>
<text x="882.8" y="650.1" font-size="16.80" font-weight="700" text-anchor="middle" textLength="36.9" lengthAdjust="spacingAndGlyphs">&amp; KT</text>
<path d="M857.3 662.8H885.1L898.3 676.9L885.1 691.0H857.3Z" fill="url(#gb)" stroke="#44546A" stroke-width="2.9"/>
<path d="M970.2 609.6H1080.4L1093.1 622.2L1080.4 634.7H970.2Z" fill="url(#gg)" stroke="#44546A" stroke-width="2.9"/>
<text x="1028.5" y="627.5" font-size="16.80" font-weight="700" text-anchor="middle" textLength="59.1" lengthAdjust="spacingAndGlyphs">12. UAT</text>
<path d="M1099.5 609.6H1182.6L1195.3 622.2L1182.6 634.7H1099.5Z" fill="url(#gb)" stroke="#44546A" stroke-width="2.9"/>
<text x="1144.2" y="626.7" font-size="14.40" font-weight="700" text-anchor="middle" textLength="45.3" lengthAdjust="spacingAndGlyphs">13. C R</text>
<text x="88.0" y="731.0" font-size="14.40" font-weight="700" textLength="98.7" lengthAdjust="spacingAndGlyphs">App Deep Dive</text>
<text x="342.0" y="730.0" font-size="14.40" font-weight="700" textLength="95.6" lengthAdjust="spacingAndGlyphs">sign-off access</text>
<text x="342.0" y="751.0" font-size="14.40" font-weight="700" textLength="77.0" lengthAdjust="spacingAndGlyphs">to PCB data</text>
<text x="618.0" y="684.8" font-size="14.40" font-weight="700" textLength="54.8" lengthAdjust="spacingAndGlyphs">Test Exit</text>
<text x="618.0" y="706.0" font-size="14.40" font-weight="700" textLength="45.4" lengthAdjust="spacingAndGlyphs">Report</text>
<text x="967.0" y="651.6" font-size="14.40" font-weight="700" textLength="135.6" lengthAdjust="spacingAndGlyphs">Business Test Scripts</text>
<text x="906.2" y="680.9" font-size="14.40" font-weight="700" textLength="82.6" lengthAdjust="spacingAndGlyphs">11. Pre-prod</text>
<text x="906.2" y="702.0" font-size="14.40" font-weight="700" textLength="46.9" lengthAdjust="spacingAndGlyphs">Deploy</text>
<path d="M445.0 733.6L456.4 745.0L445.0 756.4L433.6 745.0Z" fill="#F4B84A" stroke="#41719C" stroke-width="2.6"/>
<path d="M1216.4 617.4L1227.6 628.6L1216.4 639.8L1205.2 628.6Z" fill="#625B5A" stroke="#41719C" stroke-width="2.6"/>
<text x="1207.5" y="599.6" font-size="14.40" font-weight="700" textLength="28.8" lengthAdjust="spacingAndGlyphs">BAU</text>
<text x="1149.0" y="656.8" font-size="14.40" font-weight="700" textLength="106.0" lengthAdjust="spacingAndGlyphs">14. Prod Deploy</text>
<path d="M1228.5 581.0H1432.6" stroke="#FF7C80" stroke-width="4.8" stroke-dasharray="14 4.7" fill="none"/>
<path d="M1432.0 573.3L1447.6 581.0L1432.0 588.7Z" fill="#FF7C80"/>
<text x="1467.6" y="582.9" font-size="16.80" font-weight="700" textLength="249.7" lengthAdjust="spacingAndGlyphs">Decommission legacy App (TBD)</text>
<rect x="1325.5" y="644.5" width="484.2" height="105.7" fill="none" stroke="#7F7F7F" stroke-width="1"/>
<text x="1344.8" y="679.3" font-size="26.40" font-weight="700" fill="#2E75B6" textLength="71.0" lengthAdjust="spacingAndGlyphs">App 2</text>
<text x="1420.6" y="679.3" font-size="19.20" font-weight="700" textLength="10.7" lengthAdjust="spacingAndGlyphs">–</text>
<text x="1436.1" y="679.3" font-size="19.20" fill="#111" textLength="256.8" lengthAdjust="spacingAndGlyphs">Your text inserted here with a</text>
<text x="1344.8" y="707.7" font-size="19.20" fill="#111" textLength="442.0" lengthAdjust="spacingAndGlyphs">description of the App delivery plan on the left and</text>
<text x="1344.8" y="733.8" font-size="19.20" fill="#111" textLength="224.2" lengthAdjust="spacingAndGlyphs">any key items to mention.</text>
<path d="M135.3 886.4H1330.7L1348.3 904.5L1330.7 922.5H135.3Z" fill="url(#h3)" stroke="#000" stroke-width="3.2"/>
<text x="533.0" y="912.5" font-size="19.20" font-weight="700" textLength="16.6" lengthAdjust="spacingAndGlyphs">1.</text>
<text x="563.3" y="912.5" font-size="24.00" font-weight="700" fill="#FF0000" textLength="58.5" lengthAdjust="spacingAndGlyphs">App3</text>
<text x="633.5" y="912.5" font-size="19.20" font-weight="700" textLength="310.5" lengthAdjust="spacingAndGlyphs">Service Design + Governance Gates</text>
<path d="M139.7 927.6H331.5L354.2 950.3L331.5 973.0H139.7Z" fill="url(#gb2)" stroke="#44546A" stroke-width="2.9"/>
<text x="241.2" y="955.6" font-size="16.80" font-weight="700" text-anchor="middle" textLength="82.3" lengthAdjust="spacingAndGlyphs">2. Analysis</text>
<path d="M360.7 927.6H496.6L521.3 951.4L496.6 975.2H360.7Z" fill="url(#gb)" stroke="#44546A" stroke-width="2.9"/>
<text x="434.8" y="945.4" font-size="16.80" font-weight="700" text-anchor="middle" textLength="84.5" lengthAdjust="spacingAndGlyphs">3. Design +</text>
<text x="434.8" y="968.1" font-size="16.80" font-weight="700" text-anchor="middle" textLength="110.8" lengthAdjust="spacingAndGlyphs">Use Cases Doc</text>
<path d="M294.4 983.0H427.6L450.8 1006.6L427.6 1030.2H294.4Z" fill="url(#gb)" stroke="#44546A" stroke-width="2.9"/>
<text x="366.8" y="1000.6" font-size="16.80" font-weight="700" text-anchor="middle" textLength="72.6" lengthAdjust="spacingAndGlyphs">4. Impact</text>
<text x="366.8" y="1023.3" font-size="16.80" font-weight="700" text-anchor="middle" textLength="91.7" lengthAdjust="spacingAndGlyphs">Assessment</text>
<path d="M525.2 928.0H773.6L785.8 940.0L773.6 952.0H525.2Z" fill="url(#gb)" stroke="#44546A" stroke-width="2.9"/>
<text x="652.5" y="945.3" font-size="16.80" font-weight="700" text-anchor="middle" textLength="58.5" lengthAdjust="spacingAndGlyphs">5. Build</text>
<path d="M541.5 958.0H689.4L702.1 970.4L689.4 982.7H541.5Z" fill="url(#gb)" stroke="#44546A" stroke-width="2.9"/>
<text x="618.6" y="974.9" font-size="14.40" font-weight="700" text-anchor="middle" textLength="113.8" lengthAdjust="spacingAndGlyphs">6. App3 Test Plan</text>
<path d="M608.6 991.8H748.6L768.3 1011.6L748.6 1031.5H608.6Z" fill="url(#gb)" stroke="#44546A" stroke-width="2.9"/>
<text x="683.5" y="1006.5" font-size="14.40" font-weight="700" text-anchor="middle" textLength="72.0" lengthAdjust="spacingAndGlyphs">6b. Master</text>
<text x="683.5" y="1025.9" font-size="14.40" font-weight="700" text-anchor="middle" textLength="59.1" lengthAdjust="spacingAndGlyphs">Test Plan</text>
<path d="M617.8 1042.3H823.3L838.0 1056.8L823.3 1071.4H617.8Z" fill="url(#gg)" stroke="#44546A" stroke-width="2.9"/>
<text x="724.2" y="1062.2" font-size="16.80" font-weight="700" text-anchor="middle" textLength="150.8" lengthAdjust="spacingAndGlyphs">7. Data Migrate ETL</text>
<path d="M688.6 1077.6H840.4L852.1 1089.2L840.4 1100.9H688.6Z" fill="url(#gb)" stroke="#44546A" stroke-width="2.9"/>
<text x="763.0" y="1094.6" font-size="16.80" font-weight="700" text-anchor="middle" textLength="110.0" lengthAdjust="spacingAndGlyphs">4b. Sec Profile</text>
<path d="M791.5 927.6H930.9L952.2 948.8L930.9 970.0H791.5Z" fill="url(#gb)" stroke="#44546A" stroke-width="2.9"/>
<text x="866.5" y="942.8" font-size="16.80" font-weight="700" text-anchor="middle" textLength="67.0" lengthAdjust="spacingAndGlyphs">8. Test &amp;</text>
<text x="866.5" y="965.5" font-size="16.80" font-weight="700" text-anchor="middle" textLength="65.3" lengthAdjust="spacingAndGlyphs">Refactor</text>
<path d="M844.8 982.6H968.1L989.3 1003.2L968.1 1023.8H844.8Z" fill="url(#gb)" stroke="#44546A" stroke-width="2.9"/>
<text x="911.7" y="997.2" font-size="16.80" font-weight="700" text-anchor="middle" textLength="80.7" lengthAdjust="spacingAndGlyphs">9. Training</text>
<text x="911.7" y="1019.9" font-size="16.80" font-weight="700" text-anchor="middle" textLength="66.2" lengthAdjust="spacingAndGlyphs">Material</text>
<path d="M959.8 927.6H1090.3L1113.7 951.4L1090.3 975.2H959.8Z" fill="url(#gg)" stroke="#44546A" stroke-width="2.9"/>
<text x="1030.9" y="945.4" font-size="16.80" font-weight="700" text-anchor="middle" textLength="94.1" lengthAdjust="spacingAndGlyphs">10. W’shops</text>
<text x="1030.9" y="968.1" font-size="16.80" font-weight="700" text-anchor="middle" textLength="36.9" lengthAdjust="spacingAndGlyphs">&amp; KT</text>
<path d="M1005.4 980.8H1033.2L1047.3 994.9L1033.2 1009.0H1005.4Z" fill="url(#gb)" stroke="#44546A" stroke-width="2.9"/>
<path d="M1118.2 927.6H1228.4L1240.9 939.8L1228.4 951.9H1118.2Z" fill="url(#gg)" stroke="#44546A" stroke-width="2.9"/>
<text x="1176.5" y="945.1" font-size="16.80" font-weight="700" text-anchor="middle" textLength="59.1" lengthAdjust="spacingAndGlyphs">12. UAT</text>
<path d="M1246.5 927.6H1330.6L1344.0 939.8L1330.6 951.9H1246.5Z" fill="url(#gb)" stroke="#44546A" stroke-width="2.9"/>
<text x="1291.9" y="944.3" font-size="14.40" font-weight="700" text-anchor="middle" textLength="45.3" lengthAdjust="spacingAndGlyphs">13. C R</text>
<text x="248.8" y="1053.3" font-size="14.40" font-weight="700" textLength="98.7" lengthAdjust="spacingAndGlyphs">App Deep Dive</text>
<text x="490.0" y="1053.3" font-size="14.40" font-weight="700" textLength="95.6" lengthAdjust="spacingAndGlyphs">sign-off access</text>
<text x="490.0" y="1074.0" font-size="14.40" font-weight="700" textLength="77.0" lengthAdjust="spacingAndGlyphs">to PCB data</text>
<text x="775.4" y="1006.8" font-size="14.40" font-weight="700" textLength="54.8" lengthAdjust="spacingAndGlyphs">Test Exit</text>
<text x="775.4" y="1028.0" font-size="14.40" font-weight="700" textLength="45.4" lengthAdjust="spacingAndGlyphs">Report</text>
<text x="1115.1" y="968.8" font-size="14.40" font-weight="700" textLength="135.6" lengthAdjust="spacingAndGlyphs">Business Test Scripts</text>
<text x="1054.3" y="998.0" font-size="14.40" font-weight="700" textLength="82.6" lengthAdjust="spacingAndGlyphs">11. Pre-prod</text>
<text x="1054.3" y="1018.7" font-size="14.40" font-weight="700" textLength="46.9" lengthAdjust="spacingAndGlyphs">Deploy</text>
<path d="M593.3 1056.5L604.7 1067.9L593.3 1079.3L581.9 1067.9Z" fill="#F4B84A" stroke="#41719C" stroke-width="2.6"/>
<path d="M1360.0 935.8L1371.2 947.0L1360.0 958.2L1348.8 947.0Z" fill="#625B5A" stroke="#41719C" stroke-width="2.6"/>
<text x="1358.5" y="902.6" font-size="14.40" font-weight="700" textLength="28.8" lengthAdjust="spacingAndGlyphs">BAU</text>
<text x="1315.0" y="974.8" font-size="14.40" font-weight="700" textLength="106.0" lengthAdjust="spacingAndGlyphs">14. Prod Deploy</text>
<path d="M1371.5 917.6H1575.6" stroke="#FF7C80" stroke-width="4.8" stroke-dasharray="14 4.7" fill="none"/>
<path d="M1575.0 909.9L1590.6 917.6L1575.0 925.3Z" fill="#FF7C80"/>
<text x="1577.7" y="905.6" font-size="16.80" font-weight="700" textLength="249.7" lengthAdjust="spacingAndGlyphs">Decommission legacy App (TBD)</text>
<rect x="1322.3" y="992.3" width="487.4" height="106.9" fill="none" stroke="#7F7F7F" stroke-width="1"/>
<text x="1341.7" y="1028.9" font-size="26.40" font-weight="700" fill="#2E75B6" textLength="71.0" lengthAdjust="spacingAndGlyphs">App 3</text>
<text x="1417.5" y="1028.9" font-size="19.20" font-weight="700" textLength="10.7" lengthAdjust="spacingAndGlyphs">–</text>
<text x="1433.0" y="1028.9" font-size="19.20" fill="#111" textLength="256.8" lengthAdjust="spacingAndGlyphs">Your text inserted here with a</text>
<text x="1341.7" y="1057.0" font-size="19.20" fill="#111" textLength="442.0" lengthAdjust="spacingAndGlyphs">description of the App delivery plan on the left and</text>
<text x="1341.7" y="1082.8" font-size="19.20" fill="#111" textLength="224.2" lengthAdjust="spacingAndGlyphs">any key items to mention.</text>
<path d="M506.3 1176.4H1656.6L1673.2 1193.5L1656.6 1210.6H506.3Z" fill="url(#h4)" stroke="#000" stroke-width="3.2"/>
<text x="880.4" y="1201.7" font-size="19.20" font-weight="700" textLength="16.6" lengthAdjust="spacingAndGlyphs">1.</text>
<text x="910.7" y="1201.7" font-size="24.00" font-weight="700" fill="#FF0000" textLength="58.5" lengthAdjust="spacingAndGlyphs">App4</text>
<text x="980.9" y="1201.7" font-size="19.20" font-weight="700" textLength="310.5" lengthAdjust="spacingAndGlyphs">Service Design + Governance Gates</text>
<path d="M511.6 1217.6H649.1L672.2 1241.1L649.1 1264.5H511.6Z" fill="url(#gb2)" stroke="#44546A" stroke-width="2.9"/>
<text x="586.1" y="1246.4" font-size="16.80" font-weight="700" text-anchor="middle" textLength="82.3" lengthAdjust="spacingAndGlyphs">2. Analysis</text>
<path d="M678.3 1217.6H814.2L838.3 1241.0L814.2 1264.4H678.3Z" fill="url(#gb)" stroke="#44546A" stroke-width="2.9"/>
<text x="752.3" y="1235.0" font-size="16.80" font-weight="700" text-anchor="middle" textLength="84.5" lengthAdjust="spacingAndGlyphs">3. Design +</text>
<text x="752.3" y="1257.7" font-size="16.80" font-weight="700" text-anchor="middle" textLength="110.8" lengthAdjust="spacingAndGlyphs">Use Cases Doc</text>
<path d="M611.3 1272.6H745.9L769.0 1295.9L745.9 1319.2H611.3Z" fill="url(#gb)" stroke="#44546A" stroke-width="2.9"/>
<text x="684.4" y="1289.9" font-size="16.80" font-weight="700" text-anchor="middle" textLength="72.6" lengthAdjust="spacingAndGlyphs">4. Impact</text>
<text x="684.4" y="1312.6" font-size="16.80" font-weight="700" text-anchor="middle" textLength="91.7" lengthAdjust="spacingAndGlyphs">Assessment</text>
<path d="M842.9 1217.6H1091.2L1103.9 1229.8L1091.2 1242.0H842.9Z" fill="url(#gb)" stroke="#44546A" stroke-width="2.9"/>
<text x="970.2" y="1235.2" font-size="16.80" font-weight="700" text-anchor="middle" textLength="58.5" lengthAdjust="spacingAndGlyphs">5. Build</text>
<path d="M859.4 1247.3H1007.6L1020.3 1259.8L1007.6 1272.4H859.4Z" fill="url(#gb)" stroke="#44546A" stroke-width="2.9"/>
<text x="936.7" y="1264.4" font-size="14.40" font-weight="700" text-anchor="middle" textLength="113.8" lengthAdjust="spacingAndGlyphs">6. App4 Test Plan</text>
<path d="M927.4 1278.0H1067.3L1088.0 1297.8L1067.3 1317.5H927.4Z" fill="url(#gb)" stroke="#44546A" stroke-width="2.9"/>
<text x="1002.5" y="1292.6" font-size="14.40" font-weight="700" text-anchor="middle" textLength="72.0" lengthAdjust="spacingAndGlyphs">6b. Master</text>
<text x="1002.5" y="1312.0" font-size="14.40" font-weight="700" text-anchor="middle" textLength="59.1" lengthAdjust="spacingAndGlyphs">Test Plan</text>
<path d="M935.4 1325.0H1141.1L1156.8 1339.8L1141.1 1354.7H935.4Z" fill="url(#gg)" stroke="#44546A" stroke-width="2.9"/>
<text x="1042.2" y="1345.1" font-size="16.80" font-weight="700" text-anchor="middle" textLength="150.8" lengthAdjust="spacingAndGlyphs">7. Data Migrate ETL</text>
<path d="M1002.3 1360.2H1153.6L1166.1 1372.5L1153.6 1384.8H1002.3Z" fill="url(#gb)" stroke="#44546A" stroke-width="2.9"/>
<text x="1076.6" y="1377.8" font-size="16.80" font-weight="700" text-anchor="middle" textLength="110.0" lengthAdjust="spacingAndGlyphs">4b. Sec Profile</text>
<path d="M1109.5 1217.6H1248.2L1269.4 1238.8L1248.2 1260.0H1109.5Z" fill="url(#gb)" stroke="#44546A" stroke-width="2.9"/>
<text x="1184.2" y="1232.8" font-size="16.80" font-weight="700" text-anchor="middle" textLength="67.0" lengthAdjust="spacingAndGlyphs">8. Test &amp;</text>
<text x="1184.2" y="1255.5" font-size="16.80" font-weight="700" text-anchor="middle" textLength="65.3" lengthAdjust="spacingAndGlyphs">Refactor</text>
<path d="M1161.5 1270.5H1286.1L1307.4 1292.2L1286.1 1313.8H1161.5Z" fill="url(#gb)" stroke="#44546A" stroke-width="2.9"/>
<text x="1229.1" y="1286.1" font-size="16.80" font-weight="700" text-anchor="middle" textLength="80.7" lengthAdjust="spacingAndGlyphs">9. Training</text>
<text x="1229.1" y="1308.8" font-size="16.80" font-weight="700" text-anchor="middle" textLength="66.2" lengthAdjust="spacingAndGlyphs">Material</text>
<path d="M1277.5 1217.6H1407.6L1430.9 1241.0L1407.6 1264.4H1277.5Z" fill="url(#gg)" stroke="#44546A" stroke-width="2.9"/>
<text x="1348.4" y="1235.0" font-size="16.80" font-weight="700" text-anchor="middle" textLength="94.1" lengthAdjust="spacingAndGlyphs">10. W’shops</text>
<text x="1348.4" y="1257.7" font-size="16.80" font-weight="700" text-anchor="middle" textLength="36.9" lengthAdjust="spacingAndGlyphs">&amp; KT</text>
<path d="M1322.6 1270.0H1351.2L1364.5 1284.5L1351.2 1299.0H1322.6Z" fill="url(#gb)" stroke="#44546A" stroke-width="2.9"/>
<path d="M1435.5 1217.6H1545.2L1557.9 1229.4L1545.2 1241.2H1435.5Z" fill="url(#gg)" stroke="#44546A" stroke-width="2.9"/>
<text x="1493.5" y="1234.8" font-size="16.80" font-weight="700" text-anchor="middle" textLength="59.1" lengthAdjust="spacingAndGlyphs">12. UAT</text>
<path d="M1563.8 1217.6H1660.7L1673.4 1229.4L1660.7 1241.2H1563.8Z" fill="url(#gb)" stroke="#44546A" stroke-width="2.9"/>
<text x="1615.4" y="1234.0" font-size="14.40" font-weight="700" text-anchor="middle" textLength="45.3" lengthAdjust="spacingAndGlyphs">13. C R</text>
<text x="546.6" y="1339.3" font-size="14.40" font-weight="700" textLength="98.7" lengthAdjust="spacingAndGlyphs">App Deep Dive</text>
<text x="807.4" y="1335.8" font-size="14.40" font-weight="700" textLength="95.6" lengthAdjust="spacingAndGlyphs">sign-off access</text>
<text x="807.4" y="1357.0" font-size="14.40" font-weight="700" textLength="77.0" lengthAdjust="spacingAndGlyphs">to PCB data</text>
<text x="1094.2" y="1293.6" font-size="14.40" font-weight="700" textLength="54.8" lengthAdjust="spacingAndGlyphs">Test Exit</text>
<text x="1094.2" y="1314.7" font-size="14.40" font-weight="700" textLength="45.4" lengthAdjust="spacingAndGlyphs">Report</text>
<text x="1432.6" y="1258.8" font-size="14.40" font-weight="700" textLength="135.6" lengthAdjust="spacingAndGlyphs">Business Test Scripts</text>
<text x="1372.0" y="1288.0" font-size="14.40" font-weight="700" textLength="82.6" lengthAdjust="spacingAndGlyphs">11. Pre-prod</text>
<text x="1372.0" y="1309.3" font-size="14.40" font-weight="700" textLength="46.9" lengthAdjust="spacingAndGlyphs">Deploy</text>
<path d="M910.4 1339.3L921.8 1350.7L910.4 1362.1L899.0 1350.7Z" fill="#F4B84A" stroke="#41719C" stroke-width="2.6"/>
<path d="M1715.3 1225.2L1726.5 1236.4L1715.3 1247.6L1704.1 1236.4Z" fill="#625B5A" stroke="#41719C" stroke-width="2.6"/>
<text x="1687.8" y="1217.8" font-size="14.40" font-weight="700" textLength="28.8" lengthAdjust="spacingAndGlyphs">BAU</text>
<text x="1617.8" y="1264.9" font-size="14.40" font-weight="700" textLength="106.0" lengthAdjust="spacingAndGlyphs">14. Prod Deploy</text>
<path d="M1688.0 1194.5H1892.9" stroke="#FF7C80" stroke-width="4.8" stroke-dasharray="14 4.7" fill="none"/>
<path d="M1892.3 1186.8L1907.9 1194.5L1892.3 1202.2Z" fill="#FF7C80"/>
<text x="1876.2" y="1229.3" font-size="16.80" font-weight="700" textLength="249.7" lengthAdjust="spacingAndGlyphs">Decommission legacy App (TBD)</text>
<rect x="1325.6" y="1329.2" width="488.1" height="106.9" fill="none" stroke="#7F7F7F" stroke-width="1"/>
<text x="1345.0" y="1365.8" font-size="26.40" font-weight="700" fill="#2E75B6" textLength="71.0" lengthAdjust="spacingAndGlyphs">App 4</text>
<text x="1420.8" y="1365.8" font-size="19.20" font-weight="700" textLength="10.7" lengthAdjust="spacingAndGlyphs">–</text>
<text x="1436.3" y="1365.8" font-size="19.20" fill="#111" textLength="256.8" lengthAdjust="spacingAndGlyphs">Your text inserted here with a</text>
<text x="1345.0" y="1393.7" font-size="19.20" fill="#111" textLength="442.0" lengthAdjust="spacingAndGlyphs">description of the App delivery plan on the left and</text>
<text x="1345.0" y="1419.0" font-size="19.20" fill="#111" textLength="224.2" lengthAdjust="spacingAndGlyphs">any key items to mention.</text>
<rect x="1851.3" y="236.5" width="666.3" height="459" fill="#FFF2CC" stroke="#A5A5A5" stroke-width="1"/>
<text x="1871.4" y="266.0" font-size="19.20" font-weight="700" fill="#1F3864" textLength="79.0" lengthAdjust="spacingAndGlyphs">N O T E S</text>
<text x="1963.5" y="266.0" font-size="19.20" font-weight="700" fill="#1F3864" textLength="5.9" lengthAdjust="spacingAndGlyphs">:</text>
<text x="1875.4" y="291.4" font-size="19.20" font-weight="700" fill="#0D0D0D" textLength="232.5" lengthAdjust="spacingAndGlyphs">1. Service Design Package,</text>
<text x="2112.7" y="291.4" font-size="19.20" fill="#0D0D0D" textLength="363.3" lengthAdjust="spacingAndGlyphs">Service Transition engaged (SOG created),</text>
<text x="1870.6" y="317.0" font-size="19.20" fill="#0D0D0D" textLength="596.0" lengthAdjust="spacingAndGlyphs">Change and Release management involved, Awareness campaign for</text>
<text x="1870.6" y="342.6" font-size="19.20" fill="#0D0D0D" textLength="582.5" lengthAdjust="spacingAndGlyphs">OPS, SOG updated if applicable, Service Description, Catalogue and</text>
<text x="1870.6" y="368.1" font-size="19.20" fill="#0D0D0D" textLength="577.4" lengthAdjust="spacingAndGlyphs">Impact Map updated, Service readiness via knowledge workshops,</text>
<text x="1870.6" y="393.7" font-size="19.20" fill="#0D0D0D" textLength="590.3" lengthAdjust="spacingAndGlyphs">Service validation and testing, UAT, Acceptance into service, Release</text>
<text x="1870.6" y="419.3" font-size="19.20" fill="#0D0D0D" textLength="164.4" lengthAdjust="spacingAndGlyphs">Management, BAU</text>
<text x="1870.6" y="470.5" font-size="19.20" fill="#0D0D0D">•</text>
<text x="1882.9" y="470.5" font-size="19.20" font-weight="700" fill="#0D0D0D" textLength="94.3" lengthAdjust="spacingAndGlyphs">2. Analysis</text>
<text x="1982.0" y="470.5" font-size="19.20" fill="#0D0D0D" textLength="511.1" lengthAdjust="spacingAndGlyphs">(NFRS, data model, source code, current test scripts, docs),</text>
<text x="1870.6" y="496.0" font-size="19.20" font-weight="700" fill="#0D0D0D" textLength="189.8" lengthAdjust="spacingAndGlyphs">3. Design + Use Cases</text>
<text x="2065.2" y="496.0" font-size="19.20" fill="#0D0D0D" textLength="402.7" lengthAdjust="spacingAndGlyphs">– monitoring, CI, back end/ front end/ logic, 4.</text>
<text x="1870.6" y="521.6" font-size="19.20" fill="#0D0D0D" textLength="347.4" lengthAdjust="spacingAndGlyphs">Security Profile and Impact Assessment,</text>
<text x="2222.8" y="521.6" font-size="19.20" font-weight="700" fill="#0D0D0D" textLength="67.1" lengthAdjust="spacingAndGlyphs">5. Build</text>
<text x="2289.9" y="521.6" font-size="19.20" fill="#0D0D0D" textLength="5.4" lengthAdjust="spacingAndGlyphs">,</text>
<text x="2300.1" y="521.6" font-size="19.20" font-weight="700" fill="#0D0D0D" textLength="56.8" lengthAdjust="spacingAndGlyphs">8. Test</text>
<text x="2361.7" y="521.6" font-size="19.20" fill="#0D0D0D" textLength="109.4" lengthAdjust="spacingAndGlyphs">– technical –</text>
<text x="1870.6" y="547.2" font-size="19.20" fill="#0D0D0D" textLength="576.7" lengthAdjust="spacingAndGlyphs">back end/ logic testing – functional – front end/ logic testing – test</text>
<text x="1870.6" y="572.8" font-size="19.20" fill="#0D0D0D" textLength="230.8" lengthAdjust="spacingAndGlyphs">scripts - NFRs/ SIT/ PEN (?)</text>
<text x="1870.6" y="623.9" font-size="19.20" fill="#0D0D0D">•</text>
<text x="1882.9" y="623.9" font-size="19.20" font-weight="700" fill="#0D0D0D" textLength="252.1" lengthAdjust="spacingAndGlyphs">10. Workshops - Business KT</text>
<text x="2139.8" y="623.9" font-size="19.20" fill="#0D0D0D" textLength="10.7" lengthAdjust="spacingAndGlyphs">+</text>
<text x="2155.4" y="623.9" font-size="19.20" font-weight="700" fill="#0D0D0D" textLength="90.9" lengthAdjust="spacingAndGlyphs">IT support</text>
<text x="2251.1" y="623.9" font-size="19.20" fill="#0D0D0D" textLength="190.4" lengthAdjust="spacingAndGlyphs">/ code/ maintenance/</text>
<text x="1870.6" y="649.5" font-size="19.20" fill="#0D0D0D" textLength="621.8" lengthAdjust="spacingAndGlyphs">deployment process using new tools and methods KT - providing access</text>
<text x="1870.6" y="675.1" font-size="19.20" fill="#0D0D0D" textLength="524.8" lengthAdjust="spacingAndGlyphs">and permissions for App in Power Platform for support team</text>
<rect x="2176.2" y="1189.5" width="344.6" height="222.8" fill="none" stroke="#2E75B6" stroke-width="1.2"/>
<text x="2195.6" y="1214.8" font-size="16.80" font-weight="700" textLength="38.5" lengthAdjust="spacingAndGlyphs">KEY :</text>
<path d="M2198.9 1234.1L2210.6 1245.8L2198.9 1257.5L2187.2 1245.8Z" fill="#84A862" fill-opacity=".85" stroke="#41719C" stroke-width="2.6"/>
<text x="2230.3" y="1251.8" font-size="16.80" font-weight="700" fill="#548235" textLength="270.5" lengthAdjust="spacingAndGlyphs">Client/ XY Power Platform meeting</text>
<path d="M2198.9 1282.2L2210.6 1293.9L2198.9 1305.6L2187.2 1293.9Z" fill="#9A64BC" fill-opacity=".8" stroke="#41719C" stroke-width="2.6"/>
<text x="2230.3" y="1299.5" font-size="16.80" font-weight="700" fill="#7030A0" textLength="268.5" lengthAdjust="spacingAndGlyphs">Sprint planning / Steerco meetings</text>
<path d="M2187.1 1327.2H2203.4L2218.1 1342.5L2203.4 1357.8H2187.1Z" fill="url(#gt)" stroke="#44546A" stroke-width="2.9"/>
<text x="2230.3" y="1347.0" font-size="16.80" font-weight="700" textLength="260.6" lengthAdjust="spacingAndGlyphs">Sprint (2 weeks) + daily stand-ups</text>
<path d="M2187.1 1376.0H2203.4L2218.1 1389.9L2203.4 1403.8H2187.1Z" fill="url(#gg)" stroke="#44546A" stroke-width="2.9"/>
<text x="2230.3" y="1391.9" font-size="16.80" font-weight="700" textLength="144.4" lengthAdjust="spacingAndGlyphs">Client dependency</text>
<text x="226.5" y="1422.8" font-size="21.60" font-weight="700" textLength="56.8" lengthAdjust="spacingAndGlyphs">today</text>
<g fill="none" stroke="#C9C9C9" stroke-width="1">
<circle cx="19" cy="1421" r="14"/>
<circle cx="56.8" cy="1421" r="14"/>
<circle cx="94.7" cy="1421" r="14"/>
<circle cx="132.8" cy="1421" r="14"/>
<circle cx="170.6" cy="1421" r="14"/>
<circle cx="208.7" cy="1421" r="14"/>
<circle cx="246.6" cy="1421" r="14"/>
<path d="M22 1414.5L14.5 1421L22 1427.5Z"/><path d="M54.5 1414.5L62 1421L54.5 1427.5Z"/>
<path d="M88 1428L90 1423L101 1412.5L103 1414.5L92.5 1426Z"/>
<rect x="125.5" y="1414" width="9" height="9"/><rect x="130.5" y="1419" width="10" height="9" fill="#E4E4E4"/>
<circle cx="168.5" cy="1419" r="5.5"/><path d="M172.5 1423L178 1428.5" stroke-width="2"/>
<rect x="201.5" y="1416" width="15" height="10" rx="1"/><path d="M204 1423H214"/>
</g>
</svg>
</body></html>
